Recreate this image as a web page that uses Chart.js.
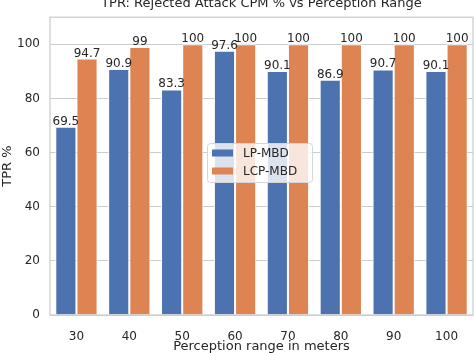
<!DOCTYPE html>
<html>
<head>
<meta charset="utf-8">
<script src="https://cdn.jsdelivr.net/npm/chart.js@4"></script>
<style>
  body { margin: 0; background: #fff; }
  canvas { display: block; }
</style>
</head>
<body>
<canvas id="tpr-chart" width="474" height="353"></canvas>
<script>
"use strict";
const categories = ['30', '40', '50', '60', '70', '80', '90', '100'];
const lpMbd = [69.5, 90.9, 83.3, 97.6, 90.1, 86.9, 90.7, 90.1];
const lcpMbd = [94.7, 99, 100, 100, 100, 100, 100, 100];
const yTicks = [0, 20, 40, 60, 80, 100];

const FONT = "'DejaVu Sans', sans-serif";
const TEXT = '#262626';
const GRID = '#cccccc';

Chart.defaults.font.family = FONT;
Chart.defaults.font.size = 12;
Chart.defaults.color = TEXT;

// title, frame, value labels and a legend placed in the middle of the plot
const decorations = {
    id: 'decorations',
    afterDatasetsDraw(chart) {
        const ctx = chart.ctx;
        const area = chart.chartArea;
        ctx.save();
        ctx.strokeStyle = GRID;
        ctx.lineWidth = 1.25;
        ctx.strokeRect(area.left, area.top, area.right - area.left, area.bottom - area.top);

        ctx.fillStyle = TEXT;
        ctx.font = '12px ' + FONT;
        ctx.textAlign = 'center';
        ctx.textBaseline = 'alphabetic';
        chart.data.datasets.forEach((ds, i) => {
            chart.getDatasetMeta(i).data.forEach((bar, j) => {
                ctx.fillText(String(ds.data[j]), bar.x, bar.y - 2);
            });
        });

        ctx.font = '13px ' + FONT;
        ctx.textBaseline = 'middle';
        ctx.fillText('TPR: Rejected Attack CPM % vs Perception Range', (area.left + area.right) / 2, 4);

        const w = 105, h = 39;
        const lx = Math.round((area.left + area.right) / 2 - w / 2) - 2;
        const ly = Math.round((area.top + area.bottom) / 2 - h / 2) - 4;
        ctx.beginPath();
        ctx.roundRect(lx + 0.5, ly + 0.5, w, h, 3);
        ctx.fillStyle = 'rgba(255,255,255,0.8)';
        ctx.fill();
        ctx.strokeStyle = '#d6d6d6';
        ctx.lineWidth = 1;
        ctx.stroke();
        ctx.font = '12px ' + FONT;
        ctx.textAlign = 'left';
        chart.data.datasets.forEach((ds, i) => {
            const cy = ly + 10 + i * 18;
            ctx.fillStyle = ds.backgroundColor;
            ctx.fillRect(lx + 5, cy - 3.5, 21, 7);
            ctx.fillStyle = TEXT;
            ctx.fillText(ds.label, lx + 36, cy + 1);
        });
        ctx.restore();
    }
};

new Chart(document.getElementById('tpr-chart'), {
    type: 'bar',
    data: {
        labels: categories,
        datasets: [{
            label: 'LP-MBD',
            data: lpMbd,
            backgroundColor: '#4c72b0',
            borderColor: '#ffffff',
            borderWidth: 1
        }, {
            label: 'LCP-MBD',
            data: lcpMbd,
            backgroundColor: '#dd8452',
            borderColor: '#ffffff',
            borderWidth: 1
        }]
    },
    options: {
        responsive: false,
        animation: false,
        layout: {
            padding: { top: 15, right: 1, left: 0, bottom: 0 }
        },
        datasets: {
            bar: { categoryPercentage: 0.8, barPercentage: 1.0 }
        },
        scales: {
            x: {
                grid: { display: false },
                border: { display: false },
                ticks: { padding: 7, font: { size: 12 } },
                title: {
                    display: true,
                    text: 'Perception range in meters',
                    font: { size: 13 },
                    padding: { top: 0, bottom: -1 }
                },
                afterFit(scale) { scale.height = 38; }
            },
            y: {
                min: 0,
                max: 110,
                grid: { color: GRID, lineWidth: 1, drawTicks: false },
                border: { display: false },
                ticks: { padding: 10, font: { size: 12 } },
                afterBuildTicks(scale) { scale.ticks = yTicks.map(v => ({ value: v })); },
                title: {
                    display: true,
                    text: 'TPR %',
                    font: { size: 13 },
                    padding: { top: 0, bottom: 0 }
                },
                afterFit(scale) { scale.width = 50; }
            }
        },
        plugins: {
            legend: { display: false },
            tooltip: { enabled: false }
        }
    },
    plugins: [decorations]
});
</script>
</body>
</html>
